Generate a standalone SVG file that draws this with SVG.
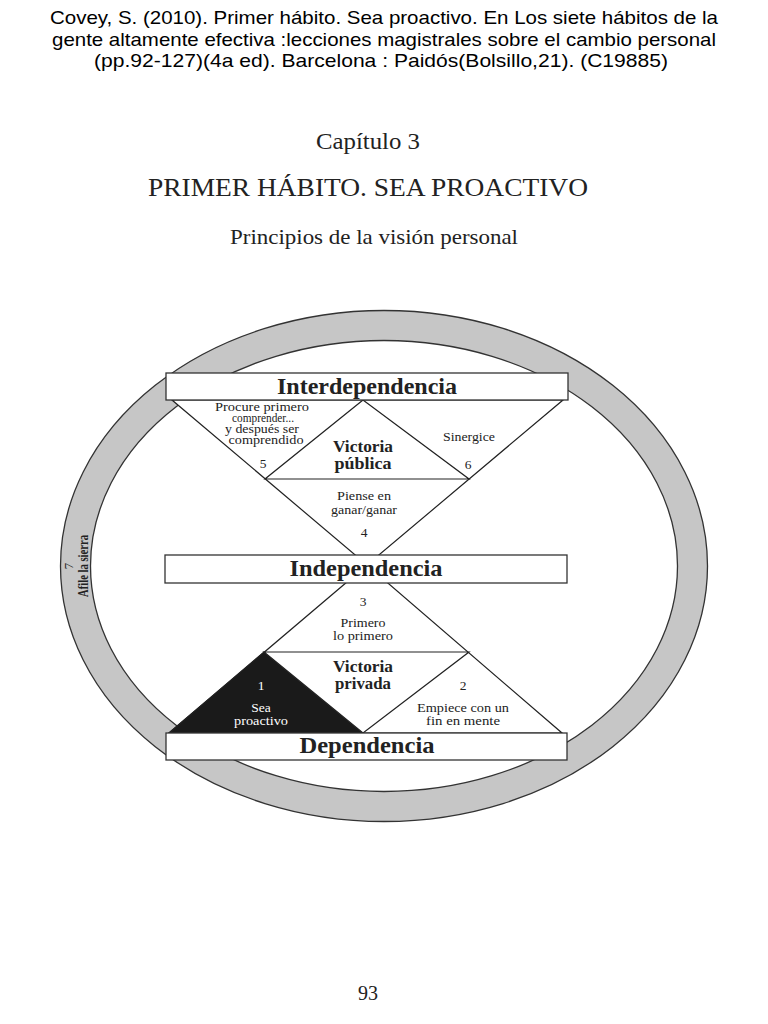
<svg xmlns="http://www.w3.org/2000/svg" width="768" height="1024" viewBox="0 0 768 1024">
<style>
.cite{font-family:"Liberation Sans",Arial,sans-serif;font-size:18.5px;fill:#000;text-anchor:middle}
.ser{font-family:"Liberation Serif","Times New Roman",serif;fill:#222;text-anchor:middle}
.lbl{font-size:13.5px}
.sm{font-size:11.5px}
.bold{font-weight:bold}
.bar{fill:#fff;stroke:#333;stroke-width:1.3}
.tri{fill:#fff;stroke:#222;stroke-width:1.2;stroke-linejoin:miter}
.wh{fill:#fff}
</style>
<rect width="768" height="1024" fill="#fff"/>
<g id="citation">
<text class="cite" x="384" y="24" textLength="668" lengthAdjust="spacingAndGlyphs">Covey, S.  (2010). Primer hábito. Sea proactivo. En Los siete hábitos de la</text>
<text class="cite" x="384" y="46" textLength="664" lengthAdjust="spacingAndGlyphs">gente altamente efectiva :lecciones magistrales sobre el cambio personal</text>
<text class="cite" x="381" y="67" textLength="574" lengthAdjust="spacingAndGlyphs">(pp.92-127)(4a ed). Barcelona : Paidós(Bolsillo,21). (C19885)</text>
</g>
<g id="headings">
<text class="ser" x="368" y="149" font-size="23" textLength="104" lengthAdjust="spacingAndGlyphs">Capítulo 3</text>
<text class="ser" x="368" y="196" font-size="25" textLength="440" lengthAdjust="spacingAndGlyphs">PRIMER HÁBITO. SEA PROACTIVO</text>
<text class="ser" x="374" y="244" font-size="21" textLength="288" lengthAdjust="spacingAndGlyphs">Principios de la visión personal</text>
</g>
<g id="ring">
<ellipse cx="384" cy="566" rx="308.5" ry="240.5" fill="none" stroke="#c6c6c6" stroke-width="30"/>
<ellipse cx="384" cy="566" rx="323.5" ry="255.5" fill="none" stroke="#333" stroke-width="1.3"/>
<ellipse cx="384" cy="566" rx="293.5" ry="225.5" fill="none" stroke="#333" stroke-width="1.3"/>
<text class="ser" font-size="13" transform="translate(73,566) rotate(-90)">7</text>
<text class="ser" font-size="15" font-weight="bold" transform="translate(88,566) rotate(-90)" textLength="62" lengthAdjust="spacingAndGlyphs">Afile la sierra</text>
</g>
<g id="connectors">
<polygon class="tri" points="172,400 563,400 367,565"/>
<polygon class="tri" points="363,400 265,479 469,479"/>
<polygon class="tri" points="367,565 169,733 562,733"/>
<polygon points="169,733 264,652 363,733" fill="#1a1a1a" stroke="#222" stroke-width="1.2"/>
<polygon class="tri" points="264,652 469,652 363,733"/>
</g>
<g id="interdependencia">
<rect class="bar" x="166" y="373" width="402" height="27"/>
<text class="ser bold" x="367" y="394" font-size="24" textLength="180" lengthAdjust="spacingAndGlyphs">Interdependencia</text>
</g>
<g id="habito5">
<text class="ser sm" x="262" y="411" textLength="94" lengthAdjust="spacingAndGlyphs">Procure primero</text>
<text class="ser sm" x="263" y="422" textLength="62" lengthAdjust="spacingAndGlyphs">comprender...</text>
<text class="ser sm" x="262" y="433" textLength="74" lengthAdjust="spacingAndGlyphs">y después ser</text>
<text class="ser sm" x="266" y="444" textLength="75" lengthAdjust="spacingAndGlyphs">comprendido</text>
<text class="ser lbl" x="263" y="468">5</text>
</g>
<g id="victoria-publica">
<text class="ser bold" x="363" y="452" font-size="17" textLength="60" lengthAdjust="spacingAndGlyphs">Victoria</text>
<text class="ser bold" x="363" y="469" font-size="17" textLength="57" lengthAdjust="spacingAndGlyphs">pública</text>
</g>
<g id="habito6">
<text class="ser lbl" x="469" y="441" textLength="52" lengthAdjust="spacingAndGlyphs">Sinergice</text>
<text class="ser lbl" x="468" y="469">6</text>
</g>
<g id="habito4">
<text class="ser lbl" x="364" y="500" textLength="54" lengthAdjust="spacingAndGlyphs">Piense en</text>
<text class="ser lbl" x="364" y="514" textLength="66" lengthAdjust="spacingAndGlyphs">ganar/ganar</text>
<text class="ser lbl" x="364" y="537">4</text>
</g>
<g id="independencia">
<rect class="bar" x="165" y="555" width="402" height="28"/>
<text class="ser bold" x="366" y="576" font-size="24" textLength="153" lengthAdjust="spacingAndGlyphs">Independencia</text>
</g>
<g id="habito3">
<text class="ser lbl" x="363" y="606">3</text>
<text class="ser lbl" x="363" y="627" textLength="45" lengthAdjust="spacingAndGlyphs">Primero</text>
<text class="ser lbl" x="363" y="640" textLength="60" lengthAdjust="spacingAndGlyphs">lo primero</text>
</g>
<g id="victoria-privada">
<text class="ser bold" x="363" y="672" font-size="17" textLength="60" lengthAdjust="spacingAndGlyphs">Victoria</text>
<text class="ser bold" x="363" y="689" font-size="17" textLength="56" lengthAdjust="spacingAndGlyphs">privada</text>
</g>
<g id="habito1">
<text class="ser lbl wh" x="261" y="690" style="fill:#fff">1</text>
<text class="ser lbl" x="261" y="712" style="fill:#fff">Sea</text>
<text class="ser lbl" x="261" y="725" style="fill:#fff" textLength="54" lengthAdjust="spacingAndGlyphs">proactivo</text>
</g>
<g id="habito2">
<text class="ser lbl" x="463" y="690">2</text>
<text class="ser lbl" x="463" y="712" textLength="92" lengthAdjust="spacingAndGlyphs">Empiece con un</text>
<text class="ser lbl" x="463" y="725" textLength="74" lengthAdjust="spacingAndGlyphs">fin en mente</text>
</g>
<g id="dependencia">
<rect class="bar" x="166" y="733" width="401" height="27"/>
<text class="ser bold" x="367" y="753" font-size="24" textLength="135" lengthAdjust="spacingAndGlyphs">Dependencia</text>
</g>
<g id="page">
<text class="ser" x="368" y="1000" font-size="20">93</text>
</g>
</svg>
